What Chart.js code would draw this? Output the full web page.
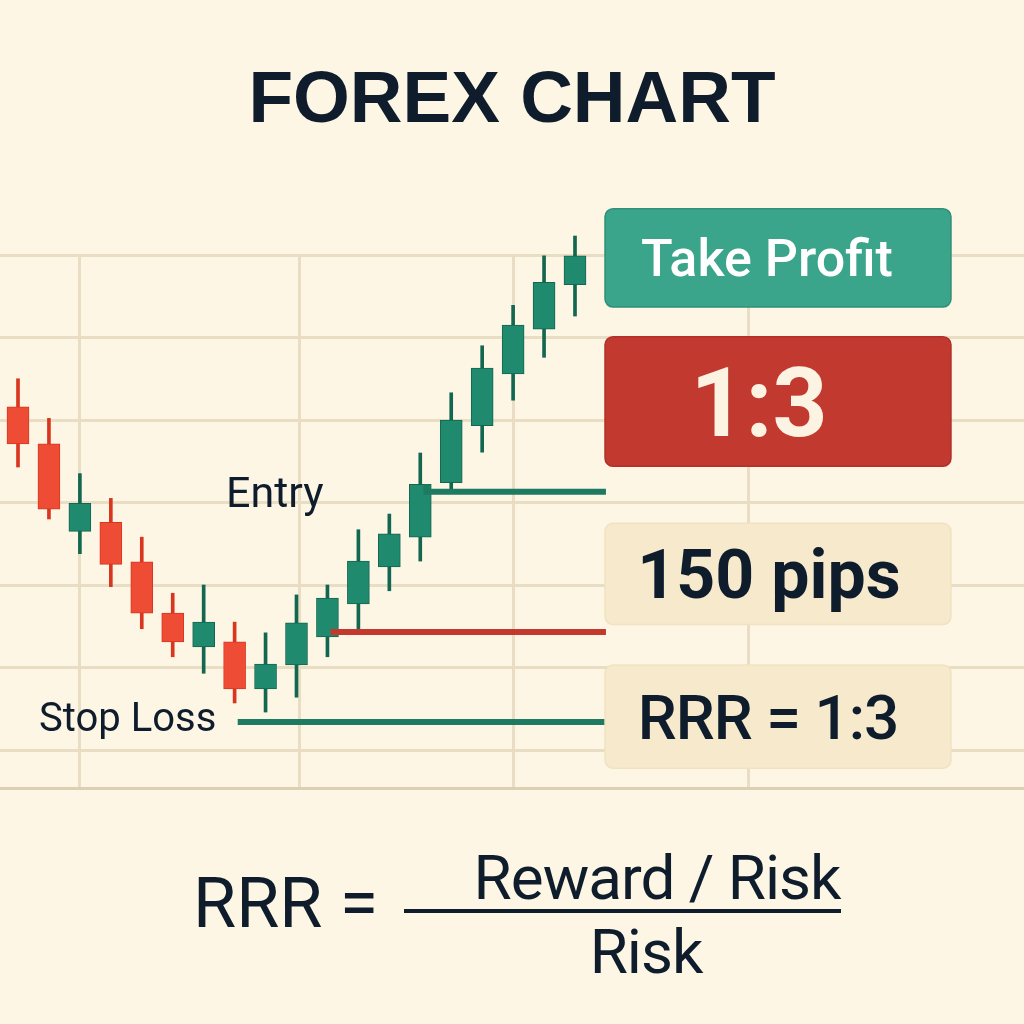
<!DOCTYPE html>
<html>
<head>
<meta charset="utf-8">
<title>Forex Chart</title>
<script src="https://cdn.jsdelivr.net/npm/chart.js@4.4.1/dist/chart.umd.min.js"></script>
<style>
  html, body { margin: 0; padding: 0; background: #fdf6e5; }
  #wrap { width: 1024px; height: 1024px; }
</style>
</head>
<body>
<div id="wrap"><canvas id="forexChart" width="1024" height="1024"></canvas></div>
<script>
// candles (price in chart units)
const candleIndex = [0, 1, 2, 3, 4, 5, 6, 7, 8, 9, 10, 11, 12, 13, 14, 15, 16, 17, 18];
const opens  = [51.6, 47.1, 36.5, 37.6, 32.8, 26.6, 22.5, 23.1, 17.4, 20.3, 23.7, 27.7, 32.2, 35.8, 42.4, 49.3, 55.6, 61.0, 66.4];
const closes = [47.1, 39.2, 39.9, 32.5, 26.6, 23.1, 25.5, 17.4, 20.4, 25.4, 28.4, 32.9, 36.2, 42.2, 50.0, 56.3, 61.5, 66.7, 69.9];
const highs  = [55.0, 50.2, 43.5, 40.5, 35.8, 29.0, 30.0, 25.5, 24.2, 28.8, 30.0, 36.7, 38.6, 46.0, 53.3, 59.0, 63.9, 69.9, 72.3];
const lows   = [44.3, 38.0, 33.8, 29.8, 24.7, 21.3, 19.3, 15.7, 14.6, 16.4, 21.3, 24.7, 29.3, 32.9, 41.6, 46.1, 52.4, 57.6, 62.6];

// horizontal levels: entry, risk line, stop loss
const levelNames  = ['Entry', 'Risk', 'Stop Loss'];
const levelPrices = [41.3, 24.3, 13.4];
const levelStarts = [13.2, 10.1, 7.1];
const levelEnd = 19.0;

// grid tick values
const yGridValues = [10, 20, 30, 40, 50, 60, 70];
const xGridValues = [2, 9.1, 16, 23.6];

// texts
const titleText = 'FOREX CHART';
const boxLabels = ['Take Profit', '1:3', '150 pips', 'RRR = 1:3'];
const formulaLeft = 'RRR =';
const formulaTop = 'Reward / Risk';
const formulaBottom = 'Risk';

const navy = '#0e1c2c';
const upFill = '#1f8a6e', upEdge = '#136650';
const downFill = '#ef4c36', downEdge = '#d9361f';
const isUp = candleIndex.map(i => closes[i] >= opens[i]);

// annotation boxes, in chart value units
const boxes = [
    { top: 75.6, bottom: 63.7, fill: '#3ba58c', edge: '#2f8f77', color: '#ffffff', font: '500 52px Roboto', spacing: '0px', dx: -11 },
    { top: 60.1, bottom: 44.4, fill: '#c2392f', edge: '#b3302a', color: '#fdf3e3', font: 'bold 96px Roboto', spacing: '0px', dx: -19 },
    { top: 37.5, bottom: 25.2, fill: '#f6e9cc', edge: '#f1e2c2', color: navy, font: 'bold 68px Roboto', spacing: '0px', dx: -9 },
    { top: 20.3, bottom: 7.8, fill: '#f6e9cc', edge: '#f1e2c2', color: navy, font: '500 62px Roboto', spacing: '-1px', dx: -10 }
];
const boxLeft = 18.97, boxRight = 30.15;

const roundRect = function (ctx, x, y, w, h, r) {
    ctx.beginPath();
    ctx.moveTo(x + r, y);
    ctx.arcTo(x + w, y, x + w, y + h, r);
    ctx.arcTo(x + w, y + h, x, y + h, r);
    ctx.arcTo(x, y + h, x, y, r);
    ctx.arcTo(x, y, x + w, y, r);
    ctx.closePath();
};

const overlay = {
    id: 'overlay',
    afterDatasetsDraw(chart) {
        const { ctx } = chart;
        const xs = chart.scales.x, ys = chart.scales.y;
        ctx.save();

        // info boxes
        boxes.forEach(function (b, i) {
            const left = xs.getPixelForValue(boxLeft);
            const right = xs.getPixelForValue(boxRight);
            const top = ys.getPixelForValue(b.top);
            const bottom = ys.getPixelForValue(b.bottom);
            roundRect(ctx, left, top, right - left, bottom - top, 8);
            ctx.fillStyle = b.fill;
            ctx.fill();
            ctx.lineWidth = 1.5;
            ctx.strokeStyle = b.edge;
            ctx.stroke();

            ctx.font = b.font;
            ctx.letterSpacing = b.spacing;
            ctx.fillStyle = b.color;
            ctx.textAlign = 'center';
            ctx.textBaseline = 'alphabetic';
            const size = parseFloat(b.font.split(' ')[1]);
            const cy = (top + bottom) / 2 + size * 0.711 / 2;
            ctx.fillText(boxLabels[i], (left + right) / 2 + b.dx, cy);
        });
        ctx.letterSpacing = '0px';

        // level captions
        ctx.fillStyle = navy;
        ctx.textAlign = 'left';
        ctx.font = '43px Roboto';
        ctx.fillText(levelNames[0], xs.getPixelForValue(6.72), ys.getPixelForValue(39.45));
        ctx.font = '40px Roboto';
        ctx.fillText(levelNames[2], xs.getPixelForValue(0.68), ys.getPixelForValue(12.3));

        // formula below the chart
        ctx.font = '70px Roboto';
        ctx.fillText(formulaLeft, 193, 927);
        ctx.textAlign = 'center';
        ctx.font = '62px Roboto';
        ctx.letterSpacing = '-1px';
        ctx.fillText(formulaTop, 657, 899);
        ctx.fillText(formulaBottom, 646, 973);
        ctx.letterSpacing = '0px';
        ctx.fillStyle = navy;
        ctx.fillRect(404, 909, 437, 4);

        ctx.restore();
    }
};

new Chart(document.getElementById('forexChart'), {
    type: 'bar',
    data: {
        datasets: [
            {
                label: 'wick',
                data: candleIndex.map(i => ({ x: i, y: [lows[i], highs[i]] })),
                backgroundColor: isUp.map(u => u ? upEdge : downEdge),
                barThickness: 3,
                grouped: false,
                clip: false,
                order: 3
            },
            {
                label: 'body',
                data: candleIndex.map(i => ({ x: i, y: [opens[i], closes[i]] })),
                backgroundColor: isUp.map(u => u ? upFill : downFill),
                borderColor: isUp.map(u => u ? upEdge : downEdge),
                borderWidth: 1,
                borderSkipped: false,
                barThickness: 22,
                grouped: false,
                clip: false,
                order: 2
            },
            {
                type: 'line',
                label: levelNames[0],
                data: [{ x: levelStarts[0], y: levelPrices[0] + 0.9 }, { x: levelStarts[0], y: levelPrices[0] }, { x: levelEnd, y: levelPrices[0] }],
                borderColor: '#1e7a60',
                borderWidth: 6,
                pointRadius: 0,
                tension: 0,
                clip: false,
                order: 1
            },
            {
                type: 'line',
                label: levelNames[1],
                data: [{ x: levelStarts[1], y: levelPrices[1] }, { x: levelEnd, y: levelPrices[1] }],
                borderColor: '#c4392d',
                borderWidth: 6,
                pointRadius: 0,
                clip: false,
                order: 1
            },
            {
                type: 'line',
                label: levelNames[2],
                data: [{ x: levelStarts[2], y: levelPrices[2] }, { x: levelEnd, y: levelPrices[2] }],
                borderColor: '#1e7a60',
                borderWidth: 6,
                pointRadius: 0,
                clip: false,
                order: 1
            }
        ]
    },
    options: {
        responsive: false,
        animation: false,
        events: [],
        layout: { padding: { top: 0, bottom: 236, left: 0, right: 0 } },
        plugins: {
            legend: { display: false },
            tooltip: { enabled: false },
            title: {
                display: true,
                text: titleText,
                color: navy,
                font: { family: '"Liberation Sans", Arial, sans-serif', size: 73, weight: 'bold', lineHeight: 1.2 },
                padding: { top: 58, bottom: 109.4 }
            }
        },
        scales: {
            x: {
                type: 'linear',
                min: -0.5817,
                max: 32.51,
                offset: false,
                afterBuildTicks: function (scale) {
                    scale.ticks = xGridValues.map(v => ({ value: v }));
                },
                ticks: { display: false },
                grid: { color: '#e9dec4', lineWidth: 3, drawTicks: false, offset: false },
                border: { display: true, color: '#dccfb3', width: 3 }
            },
            y: {
                min: 5.394,
                max: 70,
                afterBuildTicks: function (scale) {
                    scale.ticks = yGridValues.map(v => ({ value: v }));
                },
                ticks: { display: false },
                grid: { color: '#e9dec4', lineWidth: 3, drawTicks: false },
                border: { display: false }
            }
        }
    },
    plugins: [overlay]
});
</script>
</body>
</html>
